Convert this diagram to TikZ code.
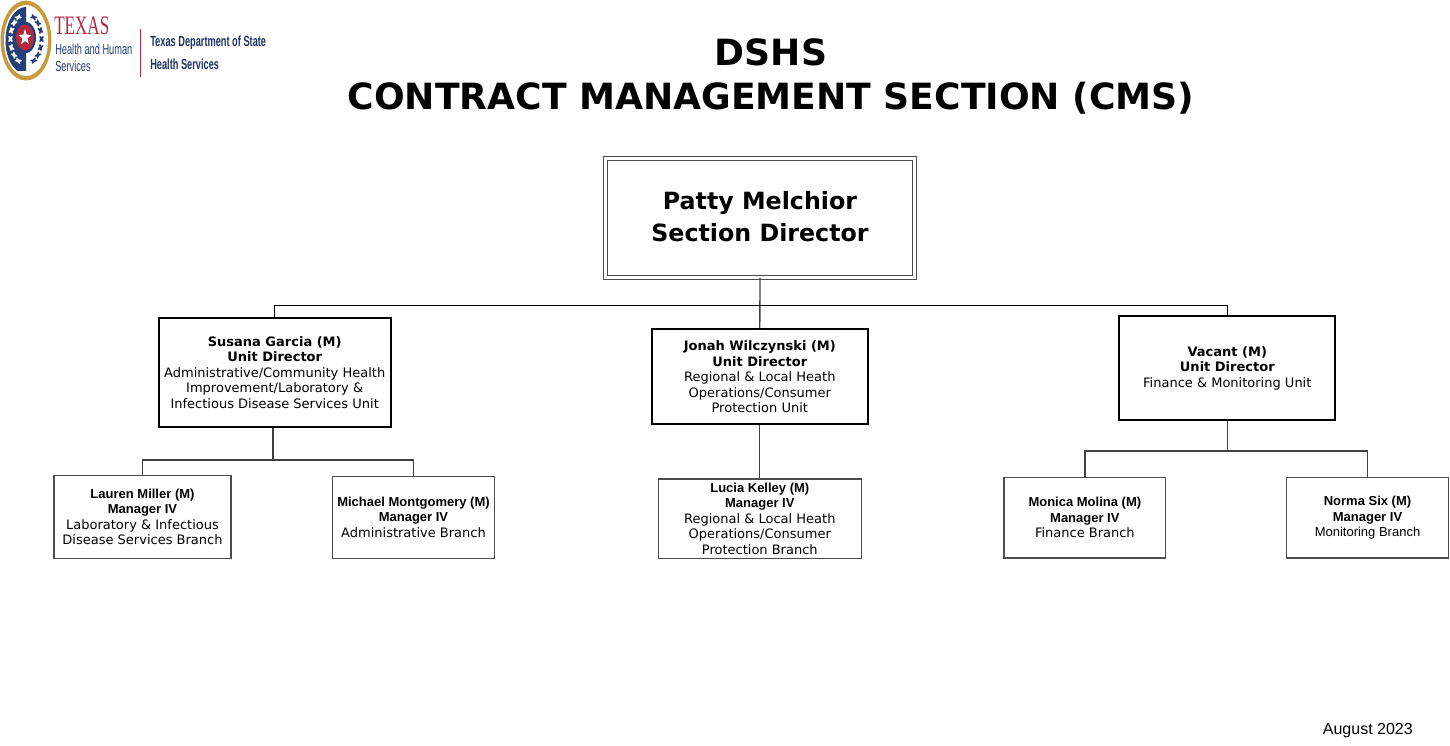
\documentclass[tikz,border=0pt]{standalone}
\usepackage{fontspec}
\setmainfont{DejaVu Sans}
\newfontfamily\arialfont{Liberation Sans}
\newfontfamily\narrowfont[FakeStretch=0.63]{Liberation Sans}
\newfontfamily\logofont[FakeStretch=0.64]{Liberation Serif}
\usetikzlibrary{
  positioning,
  shapes.geometric
}
\definecolor{logoblue}{HTML}{24407A}
\definecolor{logored}{HTML}{B5293F}
\definecolor{logogold}{HTML}{C99A3C}
\tikzset{
  topbox/.style={draw=black!70,double,double distance=2.2pt,line width=.75pt,inner sep=0pt,align=center,text depth=3pt,
    font=\fontsize{17.8}{24}\selectfont\bfseries},
  unitbox/.style={draw=black,line width=1.4pt,inner sep=0pt,align=center,
    font=\fontsize{9.75}{11.6}\selectfont},
  leafbox/.style={draw=black!70,line width=.9pt,inner sep=0pt,align=center,
    font=\fontsize{9.75}{11.6}\selectfont},
  link/.style={draw=black!75,line width=1pt},
  plain/.style={inner sep=0pt},
  logotext/.style={plain,anchor=base west,text=logoblue,font=\narrowfont\fontsize{11}{11}\selectfont},
  depttext/.style={plain,anchor=base west,text=logoblue!80!black,font=\narrowfont\bfseries\fontsize{11}{11}\selectfont}
}
\newcommand{\leafname}[1]{{\arialfont\bfseries #1}}
\newcommand{\unitname}[1]{{\bfseries #1}}
\begin{document}
\begin{tikzpicture}[x=.75pt,y=-.75pt]
  \useasboundingbox (0,0) rectangle (1450,746);

  % logo
  \fill[logogold] (26,40.5) ellipse [x radius=25.5,y radius=40];
  \fill[white] (26,40.5) ellipse [x radius=22,y radius=35.5];
  \begin{scope}
    \clip (0,0) rectangle (26,70);
    \fill[logoblue] (26,40.5) ellipse [x radius=20.5,y radius=33.5];
  \end{scope}
  \foreach \a in {-60,-40,-20,0,20,40,60}{
    \fill[logoblue] ({26+15.5*cos(\a)},{39+25*sin(\a)}) ellipse [x radius=1.2,y radius=3.6,rotate=-\a+32];
    \fill[logoblue] ({26+15.5*cos(\a)},{39+25*sin(\a)}) ellipse [x radius=1.2,y radius=3.6,rotate=-\a-32];
    \fill[white] ({26-15.5*cos(\a)},{39+25*sin(\a)}) ellipse [x radius=1.2,y radius=3.6,rotate=\a+32];
    \fill[white] ({26-15.5*cos(\a)},{39+25*sin(\a)}) ellipse [x radius=1.2,y radius=3.6,rotate=\a-32];
  }
  \fill[logoblue] (25,37.5) ellipse [x radius=11,y radius=16];
  \fill[logored] (25,37.5) ellipse [x radius=9,y radius=13];
  \node[star,star points=5,star point ratio=2.4,fill=white,inner sep=0pt,minimum size=10pt,yscale=1.25,transform shape] (star) at (25,37.5) {};
  \node[plain,anchor=base west,text=logored,font=\logofont\fontsize{20}{20}\selectfont] (texas) at (54,35) {TEXAS};
  \node[logotext] (hhs) at (55,54) {Health and Human};
  \node[logotext] (hhs2) at (55,71) {Services};
  \draw[logored,line width=.7pt] (140,29) coordinate (rulea) -- (140,77) coordinate (ruleb);
  \node[depttext] (dept) at (150,46) {Texas Department of State};
  \node[depttext] (dept2) at (150,69) {Health Services};

  % title
  \node[plain,align=center,font=\fontsize{27.1}{33.5}\selectfont\bfseries] (title) at (771,76.5) {DSHS\\CONTRACT MANAGEMENT SECTION (CMS)};

  % boxes
  \node[topbox,minimum width=232pt,minimum height=89pt] (patty) at (760,218) {Patty Melchior\\Section Director};

  \node[unitbox,minimum width=174pt,minimum height=81.3pt] (susana) at (274.7,372.5) {\unitname{Susana Garcia (M)}\\\unitname{Unit Director}\\Administrative/Community Health\\Improvement/Laboratory \&\\Infectious Disease Services Unit};
  \node[unitbox,minimum width=162.2pt,minimum height=71.2pt] (jonah) at (759.8,376.8) {\unitname{Jonah Wilczynski (M)}\\\unitname{Unit Director}\\Regional \& Local Heath\\Operations/Consumer\\Protection Unit};
  \node[unitbox,minimum width=162pt,minimum height=78pt] (vacant) at (1227.3,368) {\unitname{Vacant (M)}\\\unitname{Unit Director}\\Finance \& Monitoring Unit};

  \node[leafbox,minimum width=132.8pt,minimum height=61.8pt] (lauren) at (142.5,516.9) {\leafname{Lauren Miller (M)}\\\leafname{Manager IV}\\Laboratory \& Infectious\\Disease Services Branch};
  \node[leafbox,minimum width=121.2pt,minimum height=61.2pt] (michael) at (413.5,517.3) {\leafname{Michael Montgomery (M)}\\\leafname{Manager IV}\\Administrative Branch};
  \node[leafbox,minimum width=152.2pt,minimum height=59.5pt] (lucia) at (759.8,518.7) {\leafname{Lucia Kelley (M)}\\\leafname{Manager IV}\\Regional \& Local Heath\\Operations/Consumer\\Protection Branch};
  \node[leafbox,minimum width=121.2pt,minimum height=60.5pt] (monica) at (1084.85,517.7) {\leafname{Monica Molina (M)}\\\leafname{Manager IV}\\Finance Branch};
  \node[leafbox,minimum width=121.2pt,minimum height=60.5pt] (norma) at (1367.5,517.7) {\leafname{Norma Six (M)}\\\leafname{Manager IV}\\{\arialfont Monitoring Branch}};

  % connectors
  \coordinate (trunk) at (760,305.5);
  \coordinate (busa) at (273,460);
  \coordinate (busb) at (1227.3,451);
  \draw[link] (patty.south) -- (jonah.north);
  \draw[line width=.8pt] (susana.north) |- (trunk) -| (vacant.north);
  \draw[link] (jonah.south) -- (lucia.north);
  \draw[link] (busa |- susana.south) -- (busa);
  \draw[link] (lauren.north) |- (busa) -| (michael.north);
  \draw[link] (vacant.south) -- (busb);
  \draw[link] (monica.north) |- (busb) -| (norma.north);

  \node[plain,anchor=base east,font=\arialfont\fontsize{12}{12}\selectfont] (date) at (1413,734) {August 2023};
\end{tikzpicture}
\end{document}
